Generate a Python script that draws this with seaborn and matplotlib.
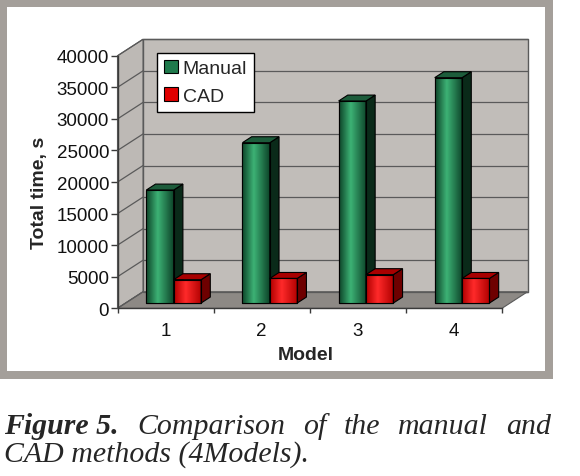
import numpy as np
import pandas as pd
import seaborn as sns
import matplotlib
matplotlib.use("Agg")
import matplotlib.pyplot as plt
from matplotlib.patches import Polygon, Rectangle
from matplotlib.lines import Line2D
from matplotlib.transforms import ScaledTranslation, IdentityTransform
from matplotlib.colors import LinearSegmentedColormap

# data
models = ["1", "2", "3", "4"]
methods = ["Manual", "CAD"]
manual_time = [17900, 25400, 32000, 35700]
cad_time = [3700, 3900, 4500, 3900]
y_ticks = [0, 5000, 10000, 15000, 20000, 25000, 30000, 35000, 40000]

df = pd.DataFrame({
    "Model": models * 2,
    "Method": ["Manual"] * len(models) + ["CAD"] * len(models),
    "Time": manual_time + cad_time,
})

# colours: front, light streak, side, top
style = {
    "Manual": dict(base="#1f7a4c", dark="#0d4429", light="#3db275", side="#0a2a19", top="#1d5c3b"),
    "CAD": dict(base="#e00000", dark="#b00000", light="#ff2a2a", side="#6e0000", top="#a80000"),
}

sns.set_style("white")
plt.rcParams["font.family"] = ["Liberation Sans", "DejaVu Sans"]

W, H = 580, 477
fig = plt.figure(figsize=(W / 100, H / 100), dpi=100)
fig.patch.set_facecolor("white")

def fx(px):
    return px / W

def fy(py):
    return (H - py) / H

# grey frame around the chart
fig.patches.append(Rectangle((0, fy(380)), fx(553), 380 / H, transform=fig.transFigure,
                             facecolor="#a49f9a", edgecolor="none", zorder=-2))
fig.patches.append(Rectangle((fx(7), fy(372)), fx(538), 364 / H, transform=fig.transFigure,
                             facecolor="white", edgecolor="none", zorder=-1))

ax = fig.add_axes([fx(117.5), fy(309.3), fx(384.5), 252.5 / H])
ax.patch.set_visible(False)

sns.barplot(data=df, x="Model", y="Time", hue="Method", hue_order=methods,
            palette={m: style[m]["base"] for m in methods}, width=0.57,
            saturation=1, legend=False, ax=ax)
ax.set_xlim(-0.5, len(models) - 0.5)
ax.set_ylim(0, max(y_ticks))

# 3D depth (pixels): full depth of the box, bar front position, bar depth
depth = np.array([25.5, 16.5])
front = 0.32 * depth
bar_d = 0.36 * depth
ident = IdentityTransform()

def px(x, y):
    return ax.transData.transform((x, y))

x_lo, x_hi = ax.get_xlim()
y_lo, y_hi = ax.get_ylim()
wall_c = "#c1bdb9"
grid_c = "#5a5a5a"

# back wall, side wall, floor
bl, br, tl = px(x_lo, y_lo), px(x_hi, y_lo), px(x_lo, y_hi)
tr = px(x_hi, y_hi)
back = Polygon([bl + depth, br + depth, tr + depth, tl + depth], closed=True, transform=ident,
               facecolor=wall_c, edgecolor=grid_c, lw=1, clip_on=False, zorder=0.5)
side = Polygon([bl, tl, tl + depth, bl + depth], closed=True, transform=ident,
               facecolor="#bdb9b5", edgecolor=grid_c, lw=0.8, clip_on=False, zorder=0.5)
floor = Polygon([bl, br, br + depth, bl + depth], closed=True, transform=ident,
                facecolor="#8d8985", edgecolor=grid_c, lw=0.8, clip_on=False, zorder=0.6)
for p in (back, side, floor):
    ax.add_patch(p)

for t in y_ticks:
    a, b = px(x_lo, t), px(x_hi, t)
    ax.add_line(Line2D([a[0] + depth[0], b[0] + depth[0]], [a[1] + depth[1], b[1] + depth[1]],
                       transform=ident, color=grid_c, lw=0.9, clip_on=False, zorder=0.7))
    ax.add_line(Line2D([a[0], a[0] + depth[0]], [a[1], a[1] + depth[1]],
                       transform=ident, color=grid_c, lw=0.9, clip_on=False, zorder=0.7))

# bars: shift seaborn's bars back into the box and add sides, tops and shading
off = ScaledTranslation(front[0] / 100, front[1] / 100, fig.dpi_scale_trans)
grad = np.linspace(0, 1, 64)[None, :]
for k, m in enumerate(methods):
    s = style[m]
    cmap = LinearSegmentedColormap.from_list(m, [(0, s["dark"]), (0.42, s["light"]), (1, s["dark"])])
    z = 3 + k
    bars = ax.containers[k]
    for patch in bars.patches:
        x0 = patch.get_x()
        x1 = x0 + patch.get_width()
        h = patch.get_height()
        patch.set_transform(ax.transData + off)
        patch.set_edgecolor("black")
        patch.set_linewidth(0.8)
        patch.set_zorder(z)
        im = ax.imshow(grad, extent=(x0, x1, 0, h), cmap=cmap, aspect="auto",
                       interpolation="bilinear", transform=ax.transData + off, zorder=z)
        im.set_clip_path(patch)
        fl, fr = px(x0, 0) + front, px(x1, 0) + front
        tl_, tr_ = px(x0, h) + front, px(x1, h) + front
        ax.add_patch(Polygon([fr, tr_, tr_ + bar_d, fr + bar_d], closed=True, transform=ident,
                             facecolor=s["side"], edgecolor="black", lw=0.8, clip_on=False, zorder=z))
        ax.add_patch(Polygon([tl_, tr_, tr_ + bar_d, tl_ + bar_d], closed=True, transform=ident,
                             facecolor=s["top"], edgecolor="black", lw=0.8, clip_on=False, zorder=z))
        # redraw front outline above the gradient
        ax.add_patch(Polygon([fl, fr, tr_, tl_], closed=True, transform=ident,
                             facecolor="none", edgecolor="black", lw=0.8, clip_on=False, zorder=z + 0.1))

ax.set_xlim(x_lo, x_hi)
ax.set_ylim(y_lo, y_hi)

# axes, ticks, labels
sns.despine(ax=ax, top=True, right=True)
for sp in ("left", "bottom"):
    ax.spines[sp].set_color("#3a3a3a")
    ax.spines[sp].set_linewidth(1)
    ax.spines[sp].set_zorder(2)
ax.set_yticks(y_ticks)
ax.set_yticklabels([str(t) for t in y_ticks])
ax.tick_params(axis="y", direction="out", length=5, width=1, color="#3a3a3a",
               labelsize=13.5, pad=1, left=True, labelcolor="#111111")
ax.set_xticks(range(len(models)))
ax.set_xticklabels(models)
ax.set_xticks(np.arange(-0.5, len(models)), minor=True)
ax.tick_params(axis="x", which="major", length=0, labelsize=13.5, pad=10, labelcolor="#111111")
ax.tick_params(axis="x", which="minor", direction="out", length=3.5, width=1, color="#3a3a3a", bottom=True)

ax.set_ylabel("Total time, s", fontsize=14, fontweight="bold")
ax.yaxis.set_label_coords(-0.18, 0.46)
ax.set_xlabel("Model", fontsize=14, fontweight="bold")
ax.xaxis.set_label_coords(0.49, -0.15)

handles = [Rectangle((0, 0), 1, 1, facecolor=style[m]["base"], edgecolor="black", lw=0.8) for m in methods]
leg = ax.legend(handles, methods, loc="upper left", bbox_to_anchor=(0.1035, 1.011),
                frameon=True, fancybox=False, framealpha=1, edgecolor="black", fontsize=14,
                handlelength=0.7, handleheight=0.7, handletextpad=0.25, labelspacing=0.5,
                borderpad=0.35, borderaxespad=0)
leg.get_frame().set_linewidth(1)
leg.set_zorder(10)

# caption, justified on the first line
cap_font = dict(family=["Liberation Serif", "DejaVu Serif"], style="italic", fontsize=21.5)
words1 = [("Figure 5.", "bold"), ("Comparison", "normal"), ("of", "normal"),
          ("the", "normal"), ("manual", "normal"), ("and", "normal")]
texts = [fig.text(0, fy(434), w, fontweight=wt, va="baseline", ha="left", **cap_font)
         for w, wt in words1]
renderer = fig.canvas.get_renderer()
widths = [t.get_window_extent(renderer).width for t in texts]
left_px, right_px = 4.5, 551
gap = (right_px - left_px - sum(widths)) / (len(texts) - 1)
xpos = left_px
for t, w in zip(texts, widths):
    t.set_x(fx(xpos))
    xpos += w + gap
fig.text(fx(4.5), fy(461.5), "CAD methods (4Models).", va="baseline", ha="left", **cap_font)

fig.savefig("out.png", dpi=100, facecolor="white")
